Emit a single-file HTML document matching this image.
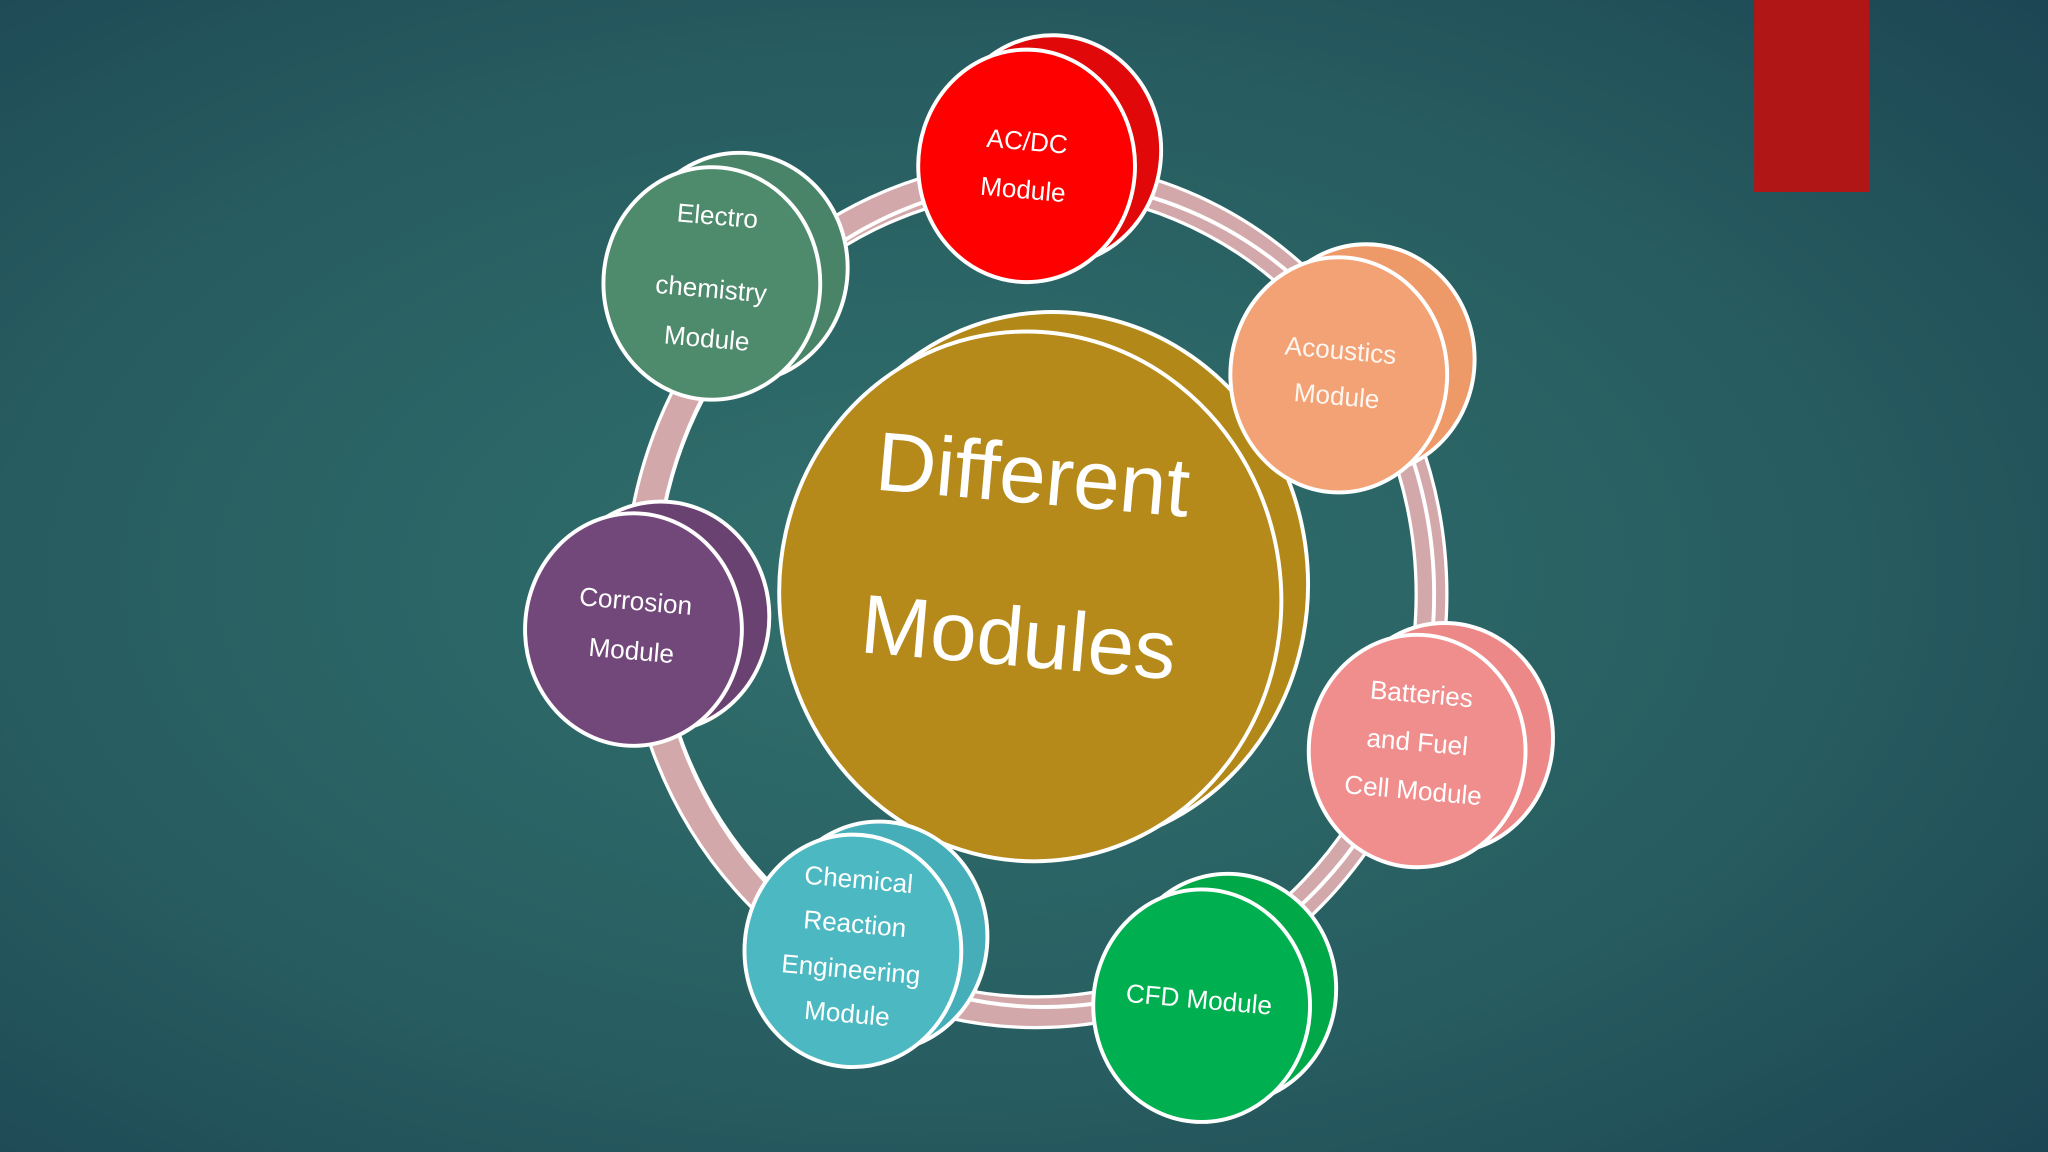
<!DOCTYPE html>
<html><head><meta charset="utf-8"><style>
html,body{margin:0;padding:0;width:2048px;height:1152px;overflow:hidden;background:#2a5f62}
svg{display:block}
text{font-family:"Liberation Sans","DejaVu Sans",sans-serif;fill:#fff}
</style></head><body>
<svg width="2048" height="1152" viewBox="0 0 1568 882" xmlns="http://www.w3.org/2000/svg">
<defs>
<radialGradient id="bg" cx="0.45" cy="0.5" r="0.75">
<stop offset="0" stop-color="#31706d"/>
<stop offset="0.6" stop-color="#275c60"/>
<stop offset="1" stop-color="#1c4553"/>
</radialGradient>
</defs>
<rect width="1568" height="882" fill="url(#bg)"/>
<rect x="1343" y="0" width="88" height="147" fill="#b01616"/>
<!-- ring -->
<ellipse cx="793" cy="455" rx="303" ry="320" fill="none" stroke="#fff" stroke-width="26"/>
<ellipse cx="793" cy="455" rx="303" ry="320" fill="none" stroke="#d3a8aa" stroke-width="21"/>
<ellipse cx="800" cy="455" rx="298" ry="316" fill="none" stroke="#fff" stroke-width="3"/>
<!-- center -->
<g transform="rotate(-8 800 450)">
<ellipse cx="810" cy="445" rx="192" ry="205" fill="#b28818" stroke="#fff" stroke-width="3"/>
<ellipse cx="788" cy="455" rx="192" ry="203" fill="#b58a1a" stroke="#fff" stroke-width="3"/>
</g>
<g transform="rotate(5 785 430)" font-size="64">
<text x="785" y="385" text-anchor="middle">Different</text>
<text x="785" y="510" text-anchor="middle">Modules</text>
</g>
<!-- nodes -->
<g stroke="#fff" stroke-width="3">
<ellipse cx="806" cy="115" rx="83" ry="88" fill="#e00808"/>
<ellipse cx="786" cy="127" rx="83" ry="89" fill="#ff0000"/>
<ellipse cx="1046" cy="275" rx="83" ry="88" fill="#ee9a68"/>
<ellipse cx="1025" cy="287" rx="83" ry="90" fill="#f2a274"/>
<ellipse cx="1106" cy="565" rx="83" ry="88" fill="#ec8888"/>
<ellipse cx="1085" cy="575" rx="83" ry="89" fill="#f08e8e"/>
<ellipse cx="940" cy="757" rx="83" ry="88" fill="#00a848"/>
<ellipse cx="920" cy="770" rx="83" ry="89" fill="#00b050"/>
<ellipse cx="673" cy="717" rx="83" ry="88" fill="#45aeb8"/>
<ellipse cx="653" cy="728" rx="83" ry="89" fill="#4cb9c2"/>
<ellipse cx="506" cy="472" rx="83" ry="88" fill="#6a4272"/>
<ellipse cx="485" cy="482" rx="83" ry="89" fill="#72487a"/>
<ellipse cx="566" cy="205" rx="83" ry="88" fill="#4a8468"/>
<ellipse cx="545" cy="217" rx="83" ry="89" fill="#4e8a6c"/>
</g>
<g font-size="20" text-anchor="middle">
<g transform="rotate(5 785 125)"><text x="785" y="115">AC/DC</text><text x="785" y="152">Module</text></g>
<g transform="rotate(5 1025 285)" fill-opacity="0.9"><text x="1025" y="275">Acoustics</text><text x="1025" y="310">Module</text></g>
<g transform="rotate(5 1085 570)"><text x="1085" y="538">Batteries</text><text x="1085" y="575">and Fuel</text><text x="1085" y="612">Cell Module</text></g>
<g transform="rotate(5 918 765)"><text x="918" y="772">CFD Module</text></g>
<g transform="rotate(5 653 725)"><text x="653" y="680">Chemical</text><text x="653" y="714">Reaction</text><text x="653" y="749">Engineering</text><text x="653" y="783">Module</text></g>
<g transform="rotate(5 485 480)"><text x="485" y="467">Corrosion</text><text x="485" y="505">Module</text></g>
<g transform="rotate(5 545 215)"><text x="545" y="172">Electro</text><text x="545" y="228">chemistry</text><text x="545" y="266">Module</text></g>
</g>
</svg>
</body></html>
